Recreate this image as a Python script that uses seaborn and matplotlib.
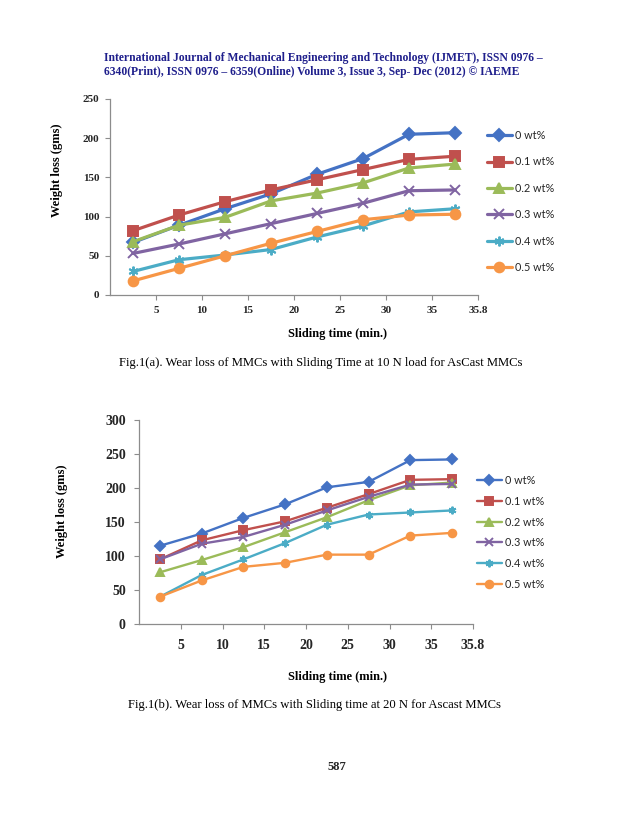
import numpy as np
import pandas as pd
import matplotlib
matplotlib.use("Agg")
import matplotlib.pyplot as plt
import seaborn as sns

# ---------------- data ----------------
time_labels = ["5", "10", "15", "20", "25", "30", "35", "35.8"]
series_names = ["0 wt%", "0.1 wt%", "0.2 wt%", "0.3 wt%", "0.4 wt%", "0.5 wt%"]

# Fig 1(a): 10 N load
load10_0 = [67, 89, 110, 129, 154, 174, 205, 207]
load10_01 = [82, 102, 119, 134, 147, 160, 173, 177]
load10_02 = [68, 89, 99, 120, 130, 143, 162, 167]
load10_03 = [53, 65, 78, 91, 104, 117, 133, 134]
load10_04 = [30, 45, 51, 58, 74, 88, 106, 110]
load10_05 = [18, 34, 50, 66, 81, 96, 102, 103]

# Fig 1(b): 20 N load
load20_0 = [115, 133, 156, 176, 201, 209, 241, 242]
load20_01 = [95, 123, 138, 151, 171, 191, 212, 213]
load20_02 = [76, 94, 113, 135, 157, 182, 204, 208]
load20_03 = [95, 118, 128, 146, 167, 187, 205, 206]
load20_04 = [40, 72, 95, 119, 146, 161, 164, 167]
load20_05 = [40, 64, 84, 90, 102, 102, 130, 134]

colors = ["#4472C4", "#C0504D", "#9BBB59", "#8064A2", "#4BACC6", "#F79646"]
markers = ["D", "s", "^", "x", (6, 2, 0), "o"]


def long_frame(values):
    rows = []
    for name, vals in zip(series_names, values):
        for i, v in enumerate(vals):
            rows.append({"pos": i + 0.5, "value": v, "series": name})
    return pd.DataFrame(rows)


df10 = long_frame([load10_0, load10_01, load10_02, load10_03, load10_04, load10_05])
df20 = long_frame([load20_0, load20_01, load20_02, load20_03, load20_04, load20_05])

# ---------------- figure ----------------
sns.set_style("white")
plt.rcParams["font.family"] = ["Liberation Serif", "DejaVu Serif"]

W, H = 638, 826
fig = plt.figure(figsize=(W / 100, H / 100), dpi=100)
fig.patch.set_facecolor("white")


def fx(px):
    return px / W


def fy(py):
    return 1 - py / H


def make_axes(x0, x1, y_top, y_bot):
    return fig.add_axes([fx(x0), fy(y_bot), fx(x1) - fx(x0), fy(y_top) - fy(y_bot)])


palette = dict(zip(series_names, colors))


def draw(ax, df, ymax, ystep, lw, ms, tick_fs, tick_pad_x, tick_pad_y):
    sns.lineplot(data=df, x="pos", y="value", hue="series",
                 hue_order=series_names, palette=palette,
                 linewidth=lw, ax=ax, legend=False)
    for line, c, m in zip(ax.lines, colors, markers):
        line.set_marker(m)
        line.set_markersize(ms * (0.85 if m == "D" else 1.0))
        line.set_markeredgecolor(c)
        line.set_markerfacecolor(c)
        line.set_markeredgewidth(1.4)
    ax.set_xlim(0, len(time_labels))
    ax.set_ylim(0, ymax)
    ax.set_xticks(np.arange(1, len(time_labels) + 1))
    ax.set_xticklabels(time_labels)
    ax.set_yticks(np.arange(0, ymax + 1, ystep))
    ax.set_xlabel("")
    ax.set_ylabel("")
    for s in ["top", "right"]:
        ax.spines[s].set_visible(False)
    for s in ["left", "bottom"]:
        ax.spines[s].set_color("#8C8C8C")
        ax.spines[s].set_linewidth(0.9)
    ax.tick_params(axis="both", direction="out", length=3.5, width=0.8,
                   color="#8C8C8C", labelsize=tick_fs)
    ax.tick_params(axis="x", pad=tick_pad_x, bottom=True)
    ax.tick_params(axis="y", pad=tick_pad_y, left=True)
    for t in ax.get_xticklabels() + ax.get_yticklabels():
        t.set_fontweight("bold")
        t.set_family(["Liberation Serif"])
    ax.patch.set_alpha(0)


# Chart (a)
ax1 = make_axes(110, 478, 99, 295)
draw(ax1, df10, 250, 50, 2.3, 7, 8, 4.5, 4)

# Chart (b)
ax2 = make_axes(139, 473, 420, 624)
draw(ax2, df20, 300, 50, 1.7, 5.5, 10, 7.5, 6)


def add_legend(ax, x_left, y_top, spacing, fs):
    leg = fig.legend(handles=ax.lines[:6], labels=series_names,
                     loc="upper left", bbox_to_anchor=(fx(x_left), fy(y_top)),
                     bbox_transform=fig.transFigure, frameon=False,
                     borderaxespad=0, borderpad=0, handlelength=2.3,
                     handletextpad=0.3, labelspacing=spacing,
                     prop={"family": "Lato", "size": fs})
    return leg


add_legend(ax1, 487, 130, 1.42, 7.8)
add_legend(ax2, 477, 475, 0.9, 7.8)

navy = "#1F1F8C"
hdr = dict(fontsize=8.35, fontweight="bold", color=navy, ha="left", va="center",
           family=["Liberation Serif"])
fig.text(fx(104), fy(58),
         "International Journal of Mechanical Engineering and Technology (IJMET), ISSN 0976 \u2013",
         **hdr)
fig.text(fx(104), fy(72),
         "6340(Print), ISSN 0976 \u2013 6359(Online) Volume 3, Issue 3, Sep- Dec (2012) \u00a9 IAEME",
         **hdr)

lab = dict(fontweight="bold", color="black", family=["Liberation Serif"])
fig.text(fx(57), fy(170), "Weight loss (gms)", rotation=90, ha="center", va="center",
         fontsize=9.0, **lab)
fig.text(fx(62), fy(511), "Weight loss (gms)", rotation=90, ha="center", va="center",
         fontsize=9.0, **lab)
fig.text(fx(337), fy(334), "Sliding time (min.)", ha="center", va="center",
         fontsize=8.9, **lab)
fig.text(fx(337), fy(677), "Sliding time (min.)", ha="center", va="center",
         fontsize=8.9, **lab)

cap = dict(fontsize=9.1, color="black", family=["Liberation Serif"], va="center")
fig.text(fx(119), fy(363),
         "Fig.1(a). Wear loss of MMCs with Sliding Time at 10 N load for AsCast MMCs",
         ha="left", **cap)
fig.text(fx(128), fy(705),
         "Fig.1(b). Wear loss of MMCs with Sliding time at 20 N for Ascast MMCs",
         ha="left", **cap)
fig.text(fx(337), fy(767), "587", ha="center", va="center", fontsize=9,
         fontweight="bold", family=["Liberation Serif"])

fig.savefig("out.png", dpi=100, facecolor="white")
